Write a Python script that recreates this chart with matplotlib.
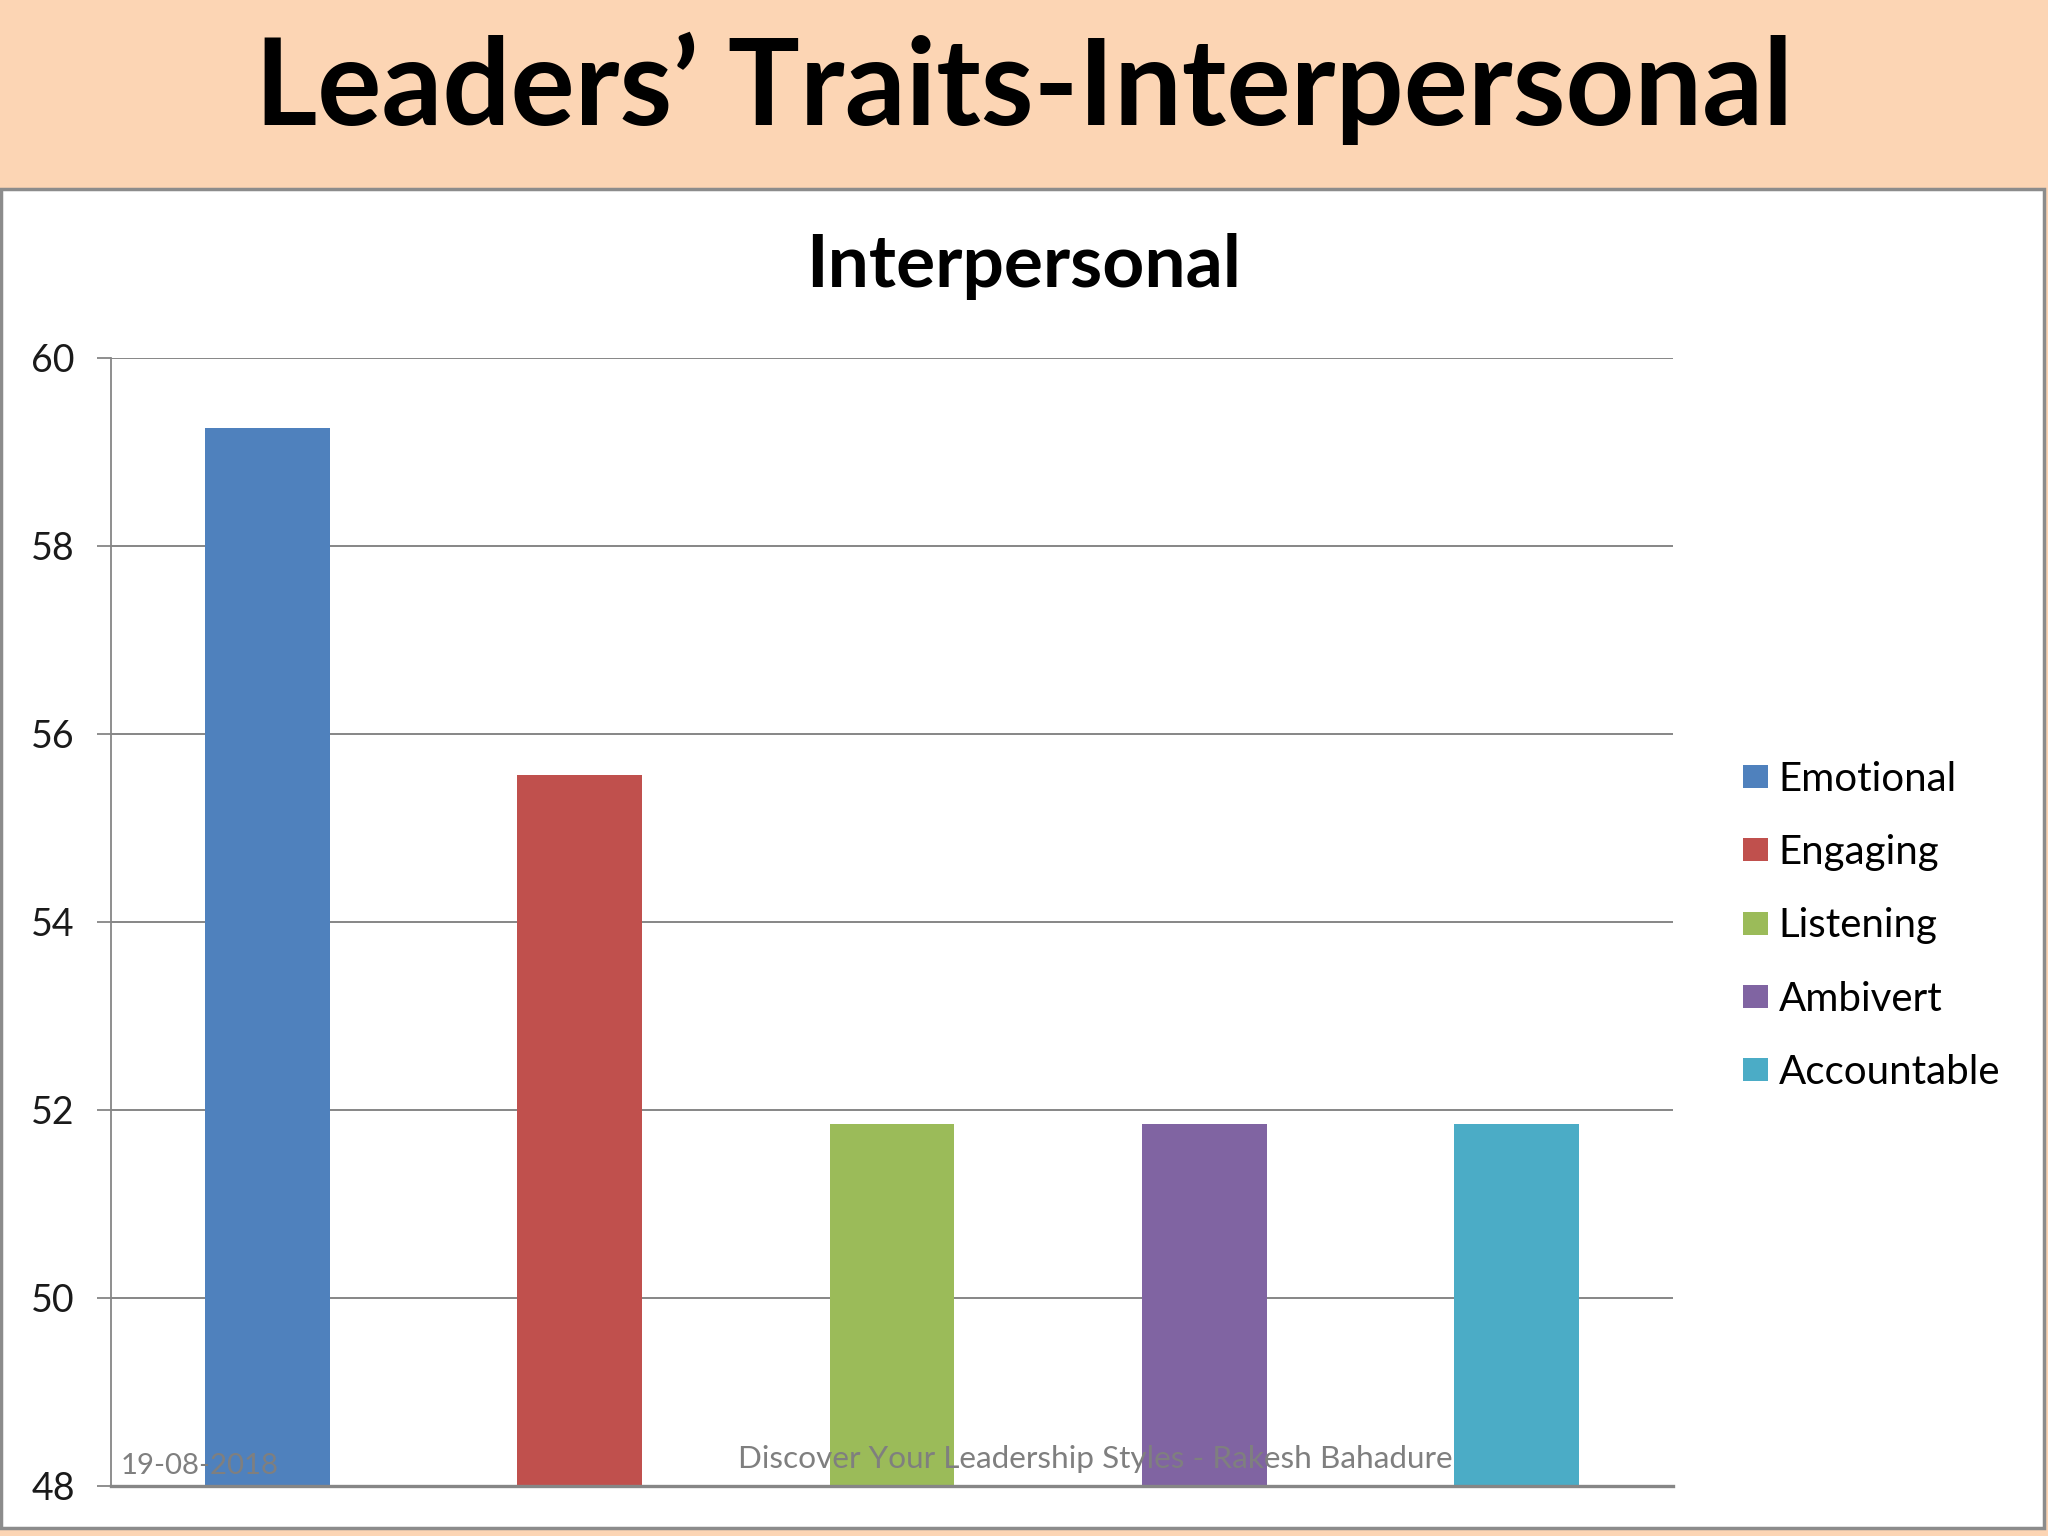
import matplotlib
matplotlib.use("Agg")
import matplotlib.pyplot as plt
from matplotlib.patches import Rectangle, Patch

# ---- data ----
categories = ["Emotional", "Engaging", "Listening", "Ambivert", "Accountable"]
values = [59.26, 55.56, 51.85, 51.85, 51.85]
colors = ["#4F81BD", "#C0504D", "#9BBB59", "#8064A2", "#4BACC6"]
yticks = [48, 50, 52, 54, 56, 58, 60]
main_title = "Leaders\u2019 Traits-Interpersonal"
chart_title = "Interpersonal"
footer_date = "19-08-2018"
footer_text = "Discover Your Leadership Styles - Rakesh Bahadure"

W, H = 2048, 1536
plt.rcParams['font.family'] = ['Lato', 'DejaVu Sans']
fig = plt.figure(figsize=(W / 100, H / 100), dpi=100)
fig.patch.set_facecolor("#FCD5B4")

def fx(px):
    return px / W

def fy(py):
    return 1 - py / H

# white chart box with gray border
box = Rectangle((fx(1), fy(1528)), fx(2044) - fx(1), fy(189) - fy(1528),
                transform=fig.transFigure, facecolor="white", edgecolor="#8C8C8C",
                linewidth=2.5, zorder=-5)
fig.patches.append(box)

ax = fig.add_axes([fx(111), fy(1486), fx(1673) - fx(111), fy(358) - fy(1486)])
ax.set_zorder(2)
ax.set_facecolor("none")
x = list(range(len(categories)))
ax.bar(x, values, width=0.4, color=colors, zorder=2)
ax.set_xlim(-0.5, len(categories) - 0.5)
ax.set_ylim(48, 60)
ax.set_yticks(yticks)
ax.set_xticks([])
ax.grid(axis="y", color="#868686", linewidth=1.4, zorder=1)
ax.set_axisbelow(True)
for s in ["top", "right"]:
    ax.spines[s].set_visible(False)
ax.spines["left"].set_color("#868686")
ax.spines["left"].set_linewidth(1.3)
ax.spines["bottom"].set_color("#868686")
ax.spines["bottom"].set_linewidth(2.4)
ax.spines["bottom"].set_zorder(3)
ax.tick_params(axis="y", length=10, width=1.3, color="#868686",
               labelsize=27, labelcolor="#1A1A1A", pad=16)

# legend
handles = [Patch(facecolor=c, edgecolor="none") for c in colors]
leg = fig.legend(handles, categories, loc="upper left",
                 bbox_to_anchor=(fx(1743), fy(761)), frameon=False,
                 fontsize=29, borderpad=0, borderaxespad=0,
                 handlelength=0.62, handleheight=0.5, handletextpad=0.27,
                 labelspacing=0.9)
leg.set_zorder(6)

renderer = fig.canvas.get_renderer()

def fit(t, target_w):
    bb = t.get_window_extent(renderer=renderer)
    t.set_fontsize(t.get_fontsize() * target_w / bb.width)

t1 = fig.text(0.5, fy(88), main_title, ha="center", va="center",
              fontsize=80, fontweight="bold", color="black")
fit(t1, 1537)
t2 = fig.text(0.5, fy(266), chart_title, ha="center", va="center",
              fontsize=40, fontweight="bold", color="black")
fit(t2, 435)
t3 = fig.text(fx(121), fy(1466), footer_date, ha="left", va="center",
              fontsize=18, color="#7F7F7F", zorder=5)
fit(t3, 158)
t4 = fig.text(fx(1095), fy(1459), footer_text, ha="center", va="center",
              fontsize=18, color="#7F7F7F", zorder=5)
fit(t4, 712)

fig.savefig("out.png", dpi=100, facecolor=fig.get_facecolor())
